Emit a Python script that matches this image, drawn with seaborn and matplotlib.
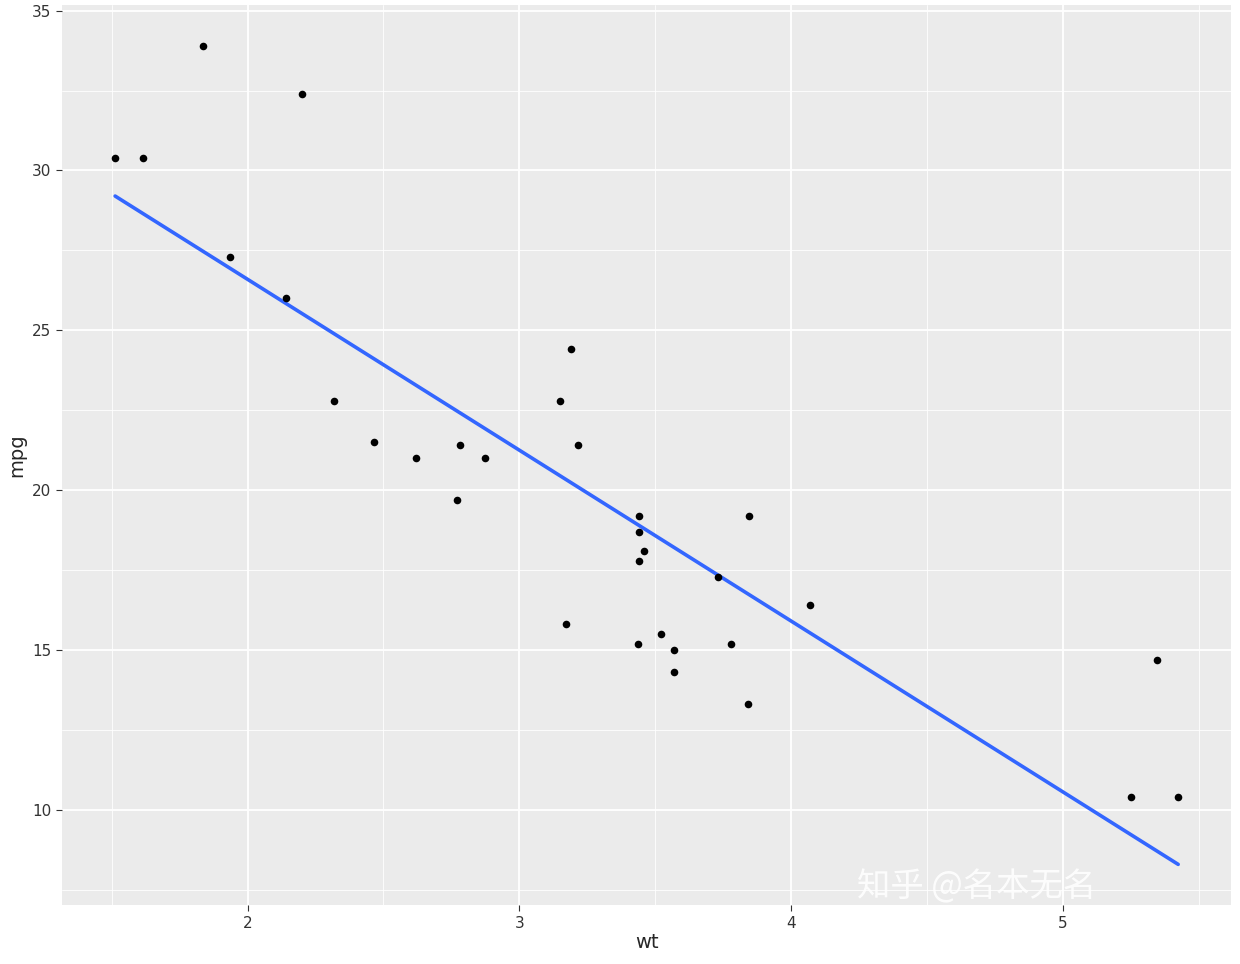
import numpy as np
import pandas as pd
import seaborn as sns
import matplotlib.pyplot as plt

# mtcars: weight (1000 lbs) and miles per gallon
wt = [2.620, 2.875, 2.320, 3.215, 3.440, 3.460, 3.570, 3.190, 3.150, 3.440, 3.440,
      4.070, 3.730, 3.780, 5.250, 5.424, 5.345, 2.200, 1.615, 1.835, 2.465, 3.520,
      3.435, 3.840, 3.845, 1.935, 2.140, 1.513, 3.170, 2.770, 3.570, 2.780]
mpg = [21.0, 21.0, 22.8, 21.4, 18.7, 18.1, 14.3, 24.4, 22.8, 19.2, 17.8,
       16.4, 17.3, 15.2, 10.4, 10.4, 14.7, 32.4, 30.4, 33.9, 21.5, 15.5,
       15.2, 13.3, 19.2, 27.3, 26.0, 30.4, 15.8, 19.7, 15.0, 21.4]
x_ticks = [2, 3, 4, 5]
y_ticks = [10, 15, 20, 25, 30, 35]

df = pd.DataFrame({'wt': wt, 'mpg': mpg})

sns.set_theme(style='darkgrid', rc={
    'axes.facecolor': '#EBEBEB', 'grid.color': 'white',
    'xtick.bottom': True, 'ytick.left': True,
    'xtick.color': '#333333', 'ytick.color': '#333333',
})
plt.rcParams['font.family'] = ['DejaVu Sans', 'Noto Sans CJK SC']

fig = plt.figure(figsize=(12.4, 9.64), dpi=100)
ax = fig.add_axes([0.05, 0.061, 0.943, 0.934])
sns.regplot(data=df, x='wt', y='mpg', ci=None, ax=ax,
            scatter_kws={'color': 'black', 'alpha': 1, 's': 30, 'linewidths': 0, 'zorder': 3},
            line_kws={'color': '#3366FF', 'linewidth': 2.6})

ax.set_xlim(1.3175, 5.6195)
ax.set_ylim(7.02, 35.18)
ax.set_xticks(x_ticks)
ax.set_yticks(y_ticks)
ax.set_xticks([1.5, 2.5, 3.5, 4.5, 5.5], minor=True)
ax.set_yticks([7.5, 12.5, 17.5, 22.5, 27.5, 32.5], minor=True)
ax.grid(which='major', color='white', linewidth=1.3)
ax.grid(which='minor', color='white', linewidth=0.6)
ax.tick_params(which='major', length=4, width=0.8, labelsize=11, color='#333333')
ax.tick_params(which='minor', length=0)
for s in ax.spines.values():
    s.set_visible(False)
ax.set_xlabel('wt', fontsize=14, labelpad=2)
ax.set_ylabel('mpg', fontsize=14, labelpad=4)

# watermark, drawn above the axes
ax.text(0.68, 0.01, '知乎 @名本无名', transform=ax.transAxes, fontsize=24,
        color='white', alpha=0.9, zorder=10,
        family=['Noto Sans CJK SC', 'DejaVu Sans'])

fig.savefig('out.png', dpi=100)
